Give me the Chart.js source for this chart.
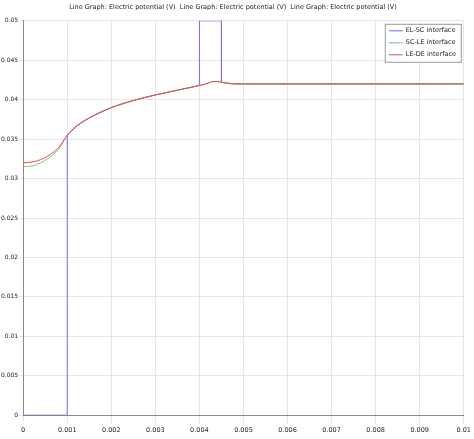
<!DOCTYPE html>
<html>
<head>
<meta charset="utf-8">
<script src="https://cdn.jsdelivr.net/npm/chart.js@4/dist/chart.umd.min.js"></script>
<style>
  body { margin: 0; background: #fff; }
  #wrap { width: 474px; height: 439px; }
</style>
</head>
<body>
<div id="wrap"><canvas id="grafico"></canvas></div>
<script>
const etiquetas = ['EL-SC interface', 'SC-LE interface', 'LE-DE interface']
const xTicks = [0, 0.001, 0.002, 0.003, 0.004, 0.005, 0.006, 0.007, 0.008, 0.009, 0.01]

// curva comun (x en s, y en V)
const xCurva = [0, 0.0002, 0.0004, 0.0006, 0.0008, 0.001, 0.0012, 0.0015, 0.002, 0.0025, 0.003, 0.0035, 0.004, 0.0042, 0.0043, 0.0044, 0.0046, 0.0048, 0.005, 0.006, 0.007, 0.008, 0.009, 0.01]
const yRojo = [0.0320, 0.0321, 0.0324, 0.0330, 0.0339, 0.0355, 0.0366, 0.0377, 0.0390, 0.0399, 0.0406, 0.0412, 0.0418, 0.0421, 0.0423, 0.0423, 0.0421, 0.0420, 0.0420, 0.0420, 0.0420, 0.0420, 0.0420, 0.0420]
const yVerde = [0.0315, 0.0316, 0.0320, 0.0327, 0.0337, 0.0355, 0.0366, 0.0377, 0.0390, 0.0399, 0.0406, 0.0412, 0.0418, 0.0421, 0.0423, 0.0423, 0.0421, 0.0420, 0.0420, 0.0420, 0.0420, 0.0420, 0.0420, 0.0420]

const xAzul = [0, 0.001, 0.001, 0.0012, 0.0015, 0.002, 0.0025, 0.003, 0.0035, 0.004, 0.004, 0.0045, 0.0045, 0.0048, 0.005, 0.01]
const yAzul = [0, 0, 0.0355, 0.0366, 0.0377, 0.0390, 0.0399, 0.0406, 0.0412, 0.0418, 0.05, 0.05, 0.0422, 0.0420, 0.0420, 0.0420]

const puntos = (xs, ys) => xs.map((x, i) => ({ x, y: ys[i] }))

// leyenda dentro del area del grafico
const leyendaInterna = {
    id: 'leyendaInterna',
    afterDraw(chart) {
        const ctx = chart.ctx
        const area = chart.chartArea
        const w = 76, h = 38
        const x0 = area.right - w - 3, y0 = area.top + 3
        ctx.save()
        ctx.fillStyle = '#fff'
        ctx.strokeStyle = '#999'
        ctx.lineWidth = 1
        ctx.fillRect(x0, y0, w, h)
        ctx.strokeRect(x0 + 0.5, y0 + 0.5, w, h)
        ctx.font = '6.5px "DejaVu Sans"'
        ctx.textBaseline = 'middle'
        chart.data.datasets.forEach((ds, i) => {
            const yy = y0 + 7 + i * 12
            ctx.strokeStyle = ds.borderColor
            ctx.beginPath()
            ctx.moveTo(x0 + 4, yy)
            ctx.lineTo(x0 + 18, yy)
            ctx.stroke()
            ctx.fillStyle = '#222'
            ctx.fillText(ds.label, x0 + 21, yy)
        })
        ctx.restore()
    }
}

new Chart(document.getElementById('grafico'), {
    type: 'line',
    data: {
        datasets: [
            { label: etiquetas[0], data: puntos(xAzul, yAzul), borderColor: '#6f6ff0', borderWidth: 1, pointRadius: 0, tension: 0, order: 2 },
            { label: etiquetas[1], data: puntos(xCurva, yVerde), borderColor: '#7cc47c', borderWidth: 1, pointRadius: 0, cubicInterpolationMode: 'monotone', order: 1 },
            { label: etiquetas[2], data: puntos(xCurva, yRojo), borderColor: '#e05050', borderWidth: 1, pointRadius: 0, cubicInterpolationMode: 'monotone', order: 0 }
        ]
    },
    options: {
        responsive: true,
        maintainAspectRatio: false,
        animation: false,
        layout: { padding: { right: 8, top: 0, bottom: 2 } },
        plugins: {
            legend: { display: false },
            tooltip: { enabled: false },
            title: {
                display: true,
                text: 'Line Graph: Electric potential (V)  Line Graph: Electric potential (V)  Line Graph: Electric potential (V)',
                font: { size: 6.5, family: 'DejaVu Sans', weight: 'normal' },
                color: '#222',
                padding: { top: 3, bottom: 10 }
            }
        },
        scales: {
            x: {
                type: 'linear',
                min: 0,
                max: 0.01,
                afterBuildTicks: axis => { axis.ticks = xTicks.map(v => ({ value: v })) },
                ticks: { font: { size: 6.5, family: 'DejaVu Sans' }, color: '#222', maxRotation: 0, callback: v => String(+v.toFixed(3)) },
                grid: { color: '#e6e6e6' },
                border: { color: '#888' }
            },
            y: {
                min: 0,
                max: 0.05,
                ticks: { stepSize: 0.005, padding: 1, font: { size: 6, family: 'DejaVu Sans' }, color: '#222', callback: v => String(+v.toFixed(3)) },
                grid: { color: '#e6e6e6', tickLength: 4 },
                border: { color: '#888' }
            }
        }
    },
    plugins: [leyendaInterna]
})
</script>
</body>
</html>
